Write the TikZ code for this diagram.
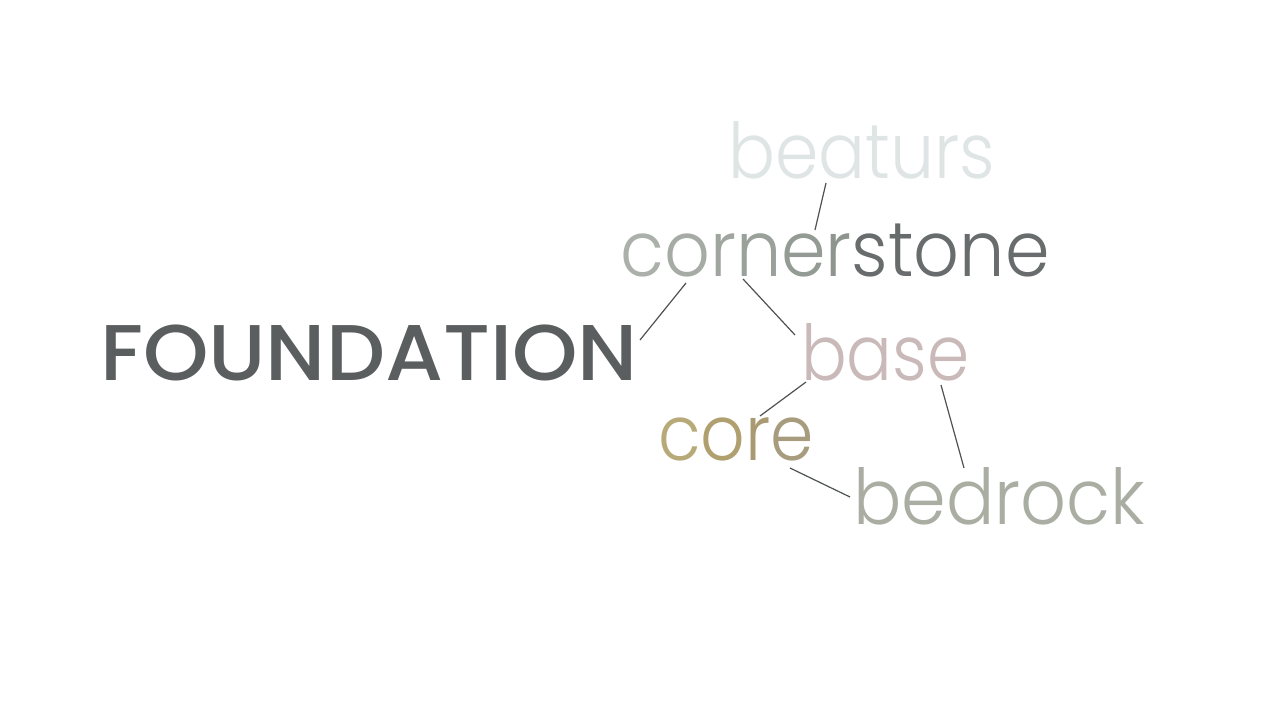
\documentclass[tikz,border=0pt]{standalone}
\usepackage{fontspec}
\setmainfont{Poppins}
\newfontfamily\lightf{Poppins Light}
\newfontfamily\medf{Poppins Medium}
\definecolor{cBeat}{HTML}{DFE5E5}
\definecolor{cStone}{HTML}{686C6C}
\definecolor{cFound}{HTML}{5A5E5E}
\definecolor{cBase}{HTML}{C9B9B9}
\definecolor{cBed}{HTML}{A9ADA2}
\definecolor{cLine}{HTML}{4E5252}
\definecolor{cA}{HTML}{ABB0AB}
\definecolor{cB}{HTML}{A6ABA6}
\definecolor{cC}{HTML}{A0A59F}
\definecolor{cD}{HTML}{9AA09A}
\definecolor{cE}{HTML}{949A94}
\definecolor{cF}{HTML}{8E948E}
\definecolor{kA}{HTML}{B8AA78}
\definecolor{kB}{HTML}{B0A070}
\definecolor{kC}{HTML}{AA9A72}
\definecolor{kD}{HTML}{A89C7E}
\begin{document}
\begin{tikzpicture}[x=1pt,y=-1pt,
  word/.style={inner sep=0pt,anchor=base west,font=\lightf\fontsize{77}{80}\selectfont},
  link/.style={draw=cLine,line width=1.2pt}]
\useasboundingbox[fill=white] (0,0) rectangle (1280,720);
\node[word,text=cBeat] (beaturs) at (728,178) {\scalebox{0.905}[1]{beaturs}};
\node[word] (cornerstone) at (620,276) {\scalebox{0.93}[1]{\textcolor{cA}{c}\textcolor{cB}{o}\textcolor{cC}{r}\textcolor{cD}{n}\textcolor{cE}{e}\textcolor{cF}{r}\textcolor{cStone}{stone}}};
\node[word,text=cFound,font=\medf\fontsize{79}{82}\selectfont] (foundation) at (100,380) {\scalebox{1.055}[1]{FOUNDATION}};
\node[word,text=cBase] (base) at (801,380) {\scalebox{0.88}[1]{base}};
\node[word] (core) at (658,460) {\scalebox{0.905}[1]{\textcolor{kA}{c}\textcolor{kB}{o}\textcolor{kC}{r}\textcolor{kD}{e}}};
\node[word,text=cBed] (bedrock) at (853,524) {\scalebox{0.932}[1]{bedrock}};
\path[link] ([shift={(98,5)}]beaturs.base west) -- ([shift={(195,-46)}]cornerstone.base west);
\path[link] ([shift={(540,-40)}]foundation.base west) -- ([shift={(66,7)}]cornerstone.base west);
\path[link] ([shift={(123,3)}]cornerstone.base west) -- ([shift={(-6,-45)}]base.base west);
\path[link] ([shift={(5,2)}]base.base west) -- ([shift={(102,-44)}]core.base west);
\path[link] ([shift={(140,5)}]base.base west) -- ([shift={(111,-56)}]bedrock.base west);
\path[link] ([shift={(132,8)}]core.base west) -- ([shift={(-3,-27)}]bedrock.base west);
\end{tikzpicture}
\end{document}
